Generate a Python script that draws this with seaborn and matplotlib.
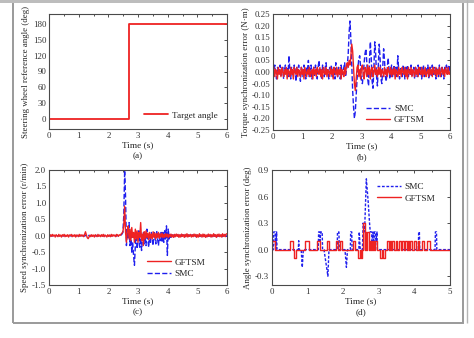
import numpy as np
import pandas as pd
import matplotlib
matplotlib.use("Agg")
import matplotlib.pyplot as plt
from matplotlib.patches import Rectangle
from matplotlib.ticker import MultipleLocator, FormatStrFormatter
import seaborn as sns

sns.set_theme(style="white")
plt.rcParams['font.family'] = ['Liberation Serif', 'DejaVu Serif']

RED = "#ee2222"
BLUE = "#1f1fee"

# ---------------- (a) target angle ----------------
a_time = [0.0, 2.68, 2.68, 6.0]
a_angle = [0.0, 0.0, 180.0, 180.0]

# ---------------- (b) torque synchronization error, dt = 0.03 s ----------------
b_dt = 0.03
b_smc = [
    0.01, -0.02, 0.03, 0.0, -0.03, 0.02, 0.01, -0.01, 0.03, -0.02, 0.0, 0.02, -0.03, 0.01, 0.03, -0.01, 0.02, -0.02, 0.07, 0.01,
    -0.03, 0.02, 0.0, -0.02, 0.03, 0.01, -0.04, 0.02, 0.0, 0.03, -0.01, -0.04, 0.02, 0.01, -0.02, 0.03, 0.0, -0.03, 0.02, 0.01,
    0.05, -0.02, 0.01, 0.03, -0.03, 0.0, 0.02, -0.02, 0.03, 0.01, -0.03, 0.02, 0.05, -0.01, 0.01, -0.03, 0.03, 0.0, -0.02, 0.02,
    0.04, -0.01, 0.01, -0.03, 0.02, 0.0, 0.03, -0.02, 0.01, 0.02, -0.03, 0.04, 0.0, -0.02, 0.02, 0.01, -0.03, 0.03, 0.0, -0.01,
    0.02, 0.04, -0.02, 0.01, 0.03, 0.08, 0.17, 0.22, 0.14, 0.03, -0.08, -0.15, -0.2, -0.17, -0.1, -0.03, 0.02, 0.06, 0.07, 0.02,
    -0.04, -0.05, -0.01, 0.04, 0.08, 0.1, 0.04, -0.03, -0.06, 0.05, 0.13, 0.06, -0.04, -0.07, 0.02, 0.13, 0.08, -0.02, -0.06, 0.03,
    0.12, 0.06, -0.03, -0.05, 0.02, 0.1, 0.05, -0.02, -0.04, 0.01, 0.06, 0.02, -0.03, 0.0, 0.03, -0.02, 0.01, 0.03, -0.01, 0.02,
    -0.02, 0.07, 0.01, -0.03, 0.02, 0.0, -0.02, 0.03, 0.01, -0.03, 0.02, 0.0, 0.03, -0.02, 0.01, -0.01, 0.03, -0.02, 0.0, 0.02,
    -0.03, 0.02, 0.01, -0.02, 0.03, 0.0, -0.01, 0.02, -0.03, 0.01, 0.03, -0.02, 0.0, 0.02, -0.01, 0.03, -0.03, 0.01, 0.02, -0.02,
    0.03, -0.01, 0.02, 0.0, -0.03, 0.02, 0.01, -0.02, 0.03, 0.0, -0.02, 0.02, 0.01, -0.03, 0.02, 0.0, 0.03, -0.01, 0.02, 0.03, 0.0,
]
b_gftsm = [
    -0.01, 0.02, -0.02, 0.01, 0.0, -0.03, 0.02, -0.01, 0.01, -0.02, 0.02, 0.0, -0.02, 0.01, -0.01, 0.02, -0.03, 0.01, 0.0, -0.02,
    0.02, -0.01, 0.01, -0.03, 0.02, 0.0, -0.01, 0.02, -0.02, 0.01, 0.0, -0.02, 0.02, -0.01, 0.01, -0.03, 0.02, 0.0, -0.02, 0.01,
    -0.01, 0.02, -0.02, 0.0, 0.01, -0.03, 0.02, -0.01, 0.01, -0.02, 0.02, 0.0, -0.01, 0.02, -0.02, 0.01, -0.03, 0.02, 0.0, -0.01,
    0.02, -0.02, 0.01, 0.0, -0.02, 0.02, -0.01, 0.01, -0.03, 0.02, 0.0, -0.01, 0.02, -0.02, 0.01, -0.01, 0.02, -0.03, 0.01, 0.0,
    -0.02, 0.02, -0.01, 0.03, 0.04, 0.02, 0.05, 0.03, 0.07, 0.12, 0.09, 0.02, -0.05, -0.08, -0.03, 0.02, 0.03, -0.02, 0.01, -0.03,
    0.02, 0.03, -0.01, -0.03, 0.02, 0.01, -0.02, 0.03, -0.01, 0.02, -0.03, 0.01, 0.02, -0.02, 0.0, 0.03, -0.01, 0.01, -0.02, 0.02,
    -0.01, 0.02, -0.02, 0.01, 0.0, -0.02, 0.02, -0.01, 0.01, -0.02, 0.02, 0.0, -0.01, 0.02, -0.02, 0.01, -0.01, 0.02, -0.03, 0.01,
    0.0, -0.02, 0.02, -0.01, 0.01, -0.02, 0.02, 0.0, -0.01, 0.02, -0.02, 0.01, -0.03, 0.02, 0.0, -0.01, 0.02, -0.02, 0.01, 0.0,
    -0.02, 0.02, -0.01, 0.01, -0.02, 0.02, 0.0, -0.01, 0.02, -0.02, 0.01, -0.01, 0.02, -0.02, 0.0, 0.01, -0.02, 0.02, -0.01, 0.01,
    -0.02, 0.02, 0.0, -0.01, 0.02, -0.02, 0.01, -0.01, 0.02, -0.02, 0.0, 0.02, -0.01, 0.01, -0.02, 0.02, 0.0, -0.01, 0.02, -0.01, 0.0,
]

# ---------------- (c) speed synchronization error, dt = 0.03 s ----------------
c_dt = 0.03
c_gftsm = [
    0.02, -0.03, 0.03, -0.02, 0.04, -0.01, 0.02, -0.04, 0.03, 0.0, -0.03, 0.04, -0.02, 0.02, -0.04, 0.03, -0.01, 0.04, -0.03, 0.02,
    -0.02, 0.03, -0.04, 0.02, 0.0, 0.04, -0.03, 0.02, -0.02, 0.03, -0.04, 0.02, 0.01, -0.03, 0.04, -0.02, 0.03, -0.01, 0.02, -0.03,
    0.04, 0.12, 0.02, -0.06, -0.09, -0.04, 0.02, -0.03, 0.03, -0.02, 0.02, -0.04, 0.03, 0.0, -0.03, 0.04, -0.02, 0.02, -0.03, 0.03,
    -0.02, 0.04, -0.03, 0.02, 0.0, -0.04, 0.03, -0.02, 0.02, -0.03, 0.04, -0.02, 0.03, -0.01, 0.02, -0.03, 0.04, 0.02, -0.02, 0.03,
    0.01, 0.05, 0.08, 0.12, 0.3, 0.9, 0.1, -0.2, 0.15, 0.3, -0.1, 0.2, -0.15, 0.25, -0.05, 0.1, -0.2, 0.2, -0.1, 0.15,
    -0.2, 0.1, -0.05, 0.4, -0.15, 0.05, -0.3, 0.12, -0.1, 0.15, -0.05, 0.08, -0.12, 0.1, -0.08, 0.05, -0.1, 0.12, -0.05, 0.08,
    -0.1, 0.06, -0.05, 0.1, -0.08, 0.05, -0.04, 0.08, -0.06, 0.04, -0.05, 0.06, -0.03, 0.05, -0.06, 0.04, -0.03, 0.05, -0.04, 0.03,
    -0.05, 0.04, -0.03, 0.05, -0.02, 0.04, -0.05, 0.03, -0.04, 0.05, -0.02, 0.03, -0.05, 0.04, -0.03, 0.06, -0.04, 0.03, -0.02, 0.04,
    -0.04, 0.03, -0.03, 0.05, -0.02, 0.04, -0.05, 0.03, -0.04, 0.06, -0.02, 0.03, -0.04, 0.05, -0.03, 0.04, -0.05, 0.02, -0.03, 0.05,
    -0.02, 0.04, -0.04, 0.03, -0.03, 0.06, -0.02, 0.03, -0.05, 0.04, -0.02, 0.05, -0.03, 0.03, -0.04, 0.06, -0.02, 0.04, -0.03, 0.05, 0.06,
]
c_smc = [
    0.01, -0.01, 0.01, 0.0, -0.01, 0.01, 0.0, -0.01, 0.01, 0.0, -0.01, 0.01, 0.0, -0.01, 0.01, 0.0, -0.01, 0.01, 0.0, -0.01,
    0.01, 0.0, -0.01, 0.01, 0.0, -0.01, 0.01, 0.0, -0.01, 0.01, 0.0, -0.01, 0.01, 0.0, -0.01, 0.01, 0.0, -0.01, 0.01, 0.0,
    -0.01, 0.01, 0.0, -0.01, 0.01, 0.0, -0.01, 0.01, 0.0, -0.01, 0.01, 0.0, -0.01, 0.01, 0.0, -0.01, 0.01, 0.0, -0.01, 0.01,
    0.0, -0.01, 0.01, 0.0, -0.01, 0.01, 0.0, -0.01, 0.01, 0.0, -0.01, 0.01, 0.0, -0.01, 0.01, 0.0, -0.01, 0.01, 0.0, -0.01,
    0.0, 0.02, 0.05, 0.1, 0.6, 2.0, 1.2, -0.3, 0.2, -0.1, 0.4, -0.3, 0.1, -0.5, -0.2, -0.6, -0.9, -0.3, 0.1, -0.4,
    -0.2, 0.15, -0.35, 0.05, -0.45, -0.1, 0.1, -0.25, 0.0, -0.3, 0.2, -0.1, -0.35, 0.05, -0.2, 0.1, -0.15, -0.3, 0.1, -0.05,
    -0.25, 0.15, -0.1, -0.3, 0.05, -0.15, 0.1, -0.2, 0.1, -0.2, 0.15, -0.1, 0.3, -0.6, 0.2, -0.1, 0.05, -0.05, 0.03, -0.04,
    0.02, -0.03, 0.02, -0.02, 0.03, -0.02, 0.02, -0.03, 0.02, -0.02, 0.03, -0.02, 0.02, -0.03, 0.02, -0.02, 0.03, -0.02, 0.02, -0.03,
    0.02, -0.02, 0.03, -0.02, 0.02, -0.03, 0.02, -0.02, 0.03, -0.02, 0.02, -0.03, 0.02, -0.02, 0.03, -0.02, 0.02, -0.03, 0.02, -0.02,
    0.03, -0.02, 0.02, -0.03, 0.02, -0.02, 0.03, -0.02, 0.02, -0.03, 0.02, -0.02, 0.03, -0.02, 0.02, -0.03, 0.02, -0.02, 0.03, -0.02, 0.0,
]

# ---------------- (d) angle synchronization error ----------------
# GFTSM: quantized pulses (start, end, value)
d_gftsm_pulses = [
    (0.0, 0.09, 0.1), (0.51, 0.60, 0.1), (0.63, 0.68, -0.1), (0.94, 1.03, 0.1),
    (1.27, 1.34, 0.1), (1.55, 1.60, 0.1), (1.79, 1.85, 0.1), (1.92, 1.96, 0.1),
    (2.28, 2.34, 0.1), (2.42, 2.47, -0.1), (2.49, 2.53, -0.1), (2.56, 2.60, 0.3),
    (2.62, 2.65, 0.2), (2.67, 2.72, 0.2), (2.74, 2.77, 0.1), (2.79, 2.82, 0.1),
    (2.84, 2.87, 0.1), (2.90, 2.94, 0.1), (3.04, 3.10, -0.1), (3.13, 3.18, -0.1),
    (3.23, 3.29, 0.1), (3.31, 3.35, 0.1), (3.38, 3.43, 0.1), (3.47, 3.52, 0.1),
    (3.56, 3.61, 0.1), (3.66, 3.70, 0.1), (3.74, 3.80, 0.1), (3.82, 3.86, 0.1),
    (3.88, 3.92, 0.1), (4.00, 4.05, 0.1), (4.09, 4.13, 0.1), (4.20, 4.26, 0.1),
    (4.35, 4.45, 0.1),
]
# SMC: sampled points (time, value)
d_smc_t = [0.0, 0.04, 0.05, 0.09, 0.10, 0.13, 0.14, 0.74, 0.75, 0.76, 0.82, 0.85, 0.88,
           1.30, 1.31, 1.34, 1.35, 1.37, 1.38, 1.41, 1.42, 1.46, 1.57, 1.60,
           1.83, 1.84, 1.88, 1.89, 1.91, 2.05, 2.09, 2.12, 2.20, 2.21, 2.24, 2.25,
           2.44, 2.45, 2.48, 2.54, 2.56, 2.60, 2.65, 2.70, 2.74, 2.76, 2.80, 2.81,
           2.84, 2.86, 2.88, 2.90, 2.92, 2.95, 2.96, 4.11, 4.12, 4.14, 4.15, 4.58, 4.59, 4.62, 4.63, 5.0]
d_smc_v = [0.0, 0.0, 0.2, 0.2, 0.0, 0.2, 0.0, 0.0, 0.1, 0.0, 0.0, -0.2, 0.0,
           0.0, 0.2, 0.2, 0.1, 0.2, 0.2, 0.2, 0.0, 0.0, -0.3, 0.0,
           0.0, 0.2, 0.2, 0.0, 0.0, 0.0, -0.2, 0.0, 0.0, 0.2, 0.2, 0.0,
           0.0, 0.2, 0.0, 0.0, 0.3, 0.2, 0.8, 0.55, 0.3, 0.2, 0.2, 0.1,
           0.2, 0.1, 0.2, 0.2, 0.1, 0.2, 0.0, 0.0, 0.2, 0.2, 0.0, 0.0, 0.2, 0.2, 0.0, 0.0]


def pulses_to_steps(pulses, t_end):
    t, v = [0.0], [0.0]
    for s, e, val in pulses:
        t += [s, s, e, e]
        v += [v[-1], val, val, 0.0]
    t.append(t_end)
    v.append(0.0)
    return t, v


FS = 6.4
fig = plt.figure(figsize=(4.74, 3.38), dpi=100)
fig.patch.set_facecolor("white")

# page frame (screenshot border)
fig.patches.append(Rectangle((13 / 474, 1 - 323 / 338), (463 - 13) / 474, 330 / 338,
                             transform=fig.transFigure, fill=False, edgecolor="#9a9a9a", lw=1.4))
fig.patches.append(Rectangle((0, 1 - 3 / 338), 1, 3 / 338, transform=fig.transFigure,
                             facecolor="#bdbdbd", edgecolor="none"))
fig.patches.append(Rectangle((467 / 474, 1 - 323 / 338), 0.0001, 323 / 338,
                             transform=fig.transFigure, fill=False, edgecolor="#b5b5b5", lw=1.0))

W, H = 474.0, 338.0


def make_ax(l, t, r, b):
    return fig.add_axes([l / W, 1 - b / H, (r - l) / W, (b - t) / H])


ax_a = make_ax(49, 14, 227, 129)
ax_b = make_ax(273, 14, 450, 130)
ax_c = make_ax(49, 170, 227, 285)
ax_d = make_ax(272, 170, 450, 285)


def style(ax, letter):
    for s in ax.spines.values():
        s.set_color("#4a4a4a")
        s.set_linewidth(0.8)
    ax.tick_params(direction="in", which="both", top=True, right=True, labelsize=FS,
                   colors="#333333", length=2.5, width=0.6, pad=2)
    ax.tick_params(which="minor", length=1.5)
    ax.xaxis.set_major_locator(MultipleLocator(1))
    ax.xaxis.set_minor_locator(MultipleLocator(0.5))
    ax.set_xlabel("Time (s)", fontsize=FS + 0.3, labelpad=1, color="#222222")
    ax.text(0.5, -0.2, letter, transform=ax.transAxes, ha="center", va="top",
            fontsize=FS + 0.3, color="#222222")
    ax.set_facecolor("white")


LEG = dict(frameon=False, fontsize=FS + 0.3, handlelength=2.6, handletextpad=0.4,
           labelspacing=0.3, borderaxespad=0.6)

# (a)
sns.lineplot(x=a_time, y=a_angle, ax=ax_a, color=RED, lw=1.3, estimator=None, sort=False,
             label="Target angle")
ax_a.set_xlim(0, 6)
ax_a.set_ylim(-20, 200)
ax_a.set_yticks([0, 30, 60, 90, 120, 150, 180])
ax_a.set_ylabel("Steering wheel reference angle (deg)", fontsize=FS, labelpad=2)
style(ax_a, "(a)")
ax_a.legend(loc="lower right", **LEG)

# (b)
tb = np.round(np.arange(len(b_smc)) * b_dt, 3)
df_b = pd.DataFrame({"t": tb, "SMC": b_smc, "GFTSM": b_gftsm})
sns.lineplot(data=df_b, x="t", y="SMC", ax=ax_b, color=BLUE, lw=1.0, linestyle="--",
             estimator=None, sort=False, label="SMC")
sns.lineplot(data=df_b, x="t", y="GFTSM", ax=ax_b, color=RED, lw=1.0,
             estimator=None, sort=False, label="GFTSM")
ax_b.set_xlim(0, 6)
ax_b.set_ylim(-0.25, 0.25)
ax_b.yaxis.set_major_locator(MultipleLocator(0.05))
ax_b.yaxis.set_major_formatter(FormatStrFormatter("%.2f"))
ax_b.set_ylabel("Torque synchronization error (N·m)", fontsize=FS, labelpad=1)
style(ax_b, "(b)")
ax_b.legend(loc="lower right", bbox_to_anchor=(0.91, -0.03), **LEG)

# (c)
tc = np.round(np.arange(len(c_smc)) * c_dt, 3)
df_c = pd.DataFrame({"t": tc, "SMC": c_smc, "GFTSM": c_gftsm})
sns.lineplot(data=df_c, x="t", y="SMC", ax=ax_c, color=BLUE, lw=1.0, linestyle="--",
             estimator=None, sort=False, label="SMC")
sns.lineplot(data=df_c, x="t", y="GFTSM", ax=ax_c, color=RED, lw=1.0,
             estimator=None, sort=False, label="GFTSM")
ax_c.set_xlim(0, 6)
ax_c.set_ylim(-1.5, 2.0)
ax_c.yaxis.set_major_locator(MultipleLocator(0.5))
ax_c.yaxis.set_major_formatter(FormatStrFormatter("%.1f"))
ax_c.set_ylabel("Speed synchronization error (r/min)", fontsize=FS, labelpad=2)
style(ax_c, "(c)")
h, l = ax_c.get_legend_handles_labels()
ax_c.legend([h[1], h[0]], [l[1], l[0]], loc="lower right", bbox_to_anchor=(0.93, -0.02), **LEG)

# (d)
td_g, vd_g = pulses_to_steps(d_gftsm_pulses, 5.0)
sns.lineplot(x=d_smc_t, y=d_smc_v, ax=ax_d, color=BLUE, lw=1.0, linestyle=(0, (2, 1.2)),
             estimator=None, sort=False, label="SMC")
sns.lineplot(x=td_g, y=vd_g, ax=ax_d, color=RED, lw=1.0, estimator=None, sort=False,
             label="GFTSM")
ax_d.set_xlim(0, 5)
ax_d.set_ylim(-0.4, 0.9)
ax_d.set_yticks([-0.3, 0.0, 0.3, 0.6, 0.9])
ax_d.yaxis.set_major_formatter(FormatStrFormatter("%.1f"))
ax_d.set_ylabel("Angle synchronization error (deg)", fontsize=FS, labelpad=2)
style(ax_d, "(d)")
ax_d.legend(loc="upper right", bbox_to_anchor=(0.97, 0.97), **LEG)

fig.savefig("out.png", dpi=100, facecolor="white")
